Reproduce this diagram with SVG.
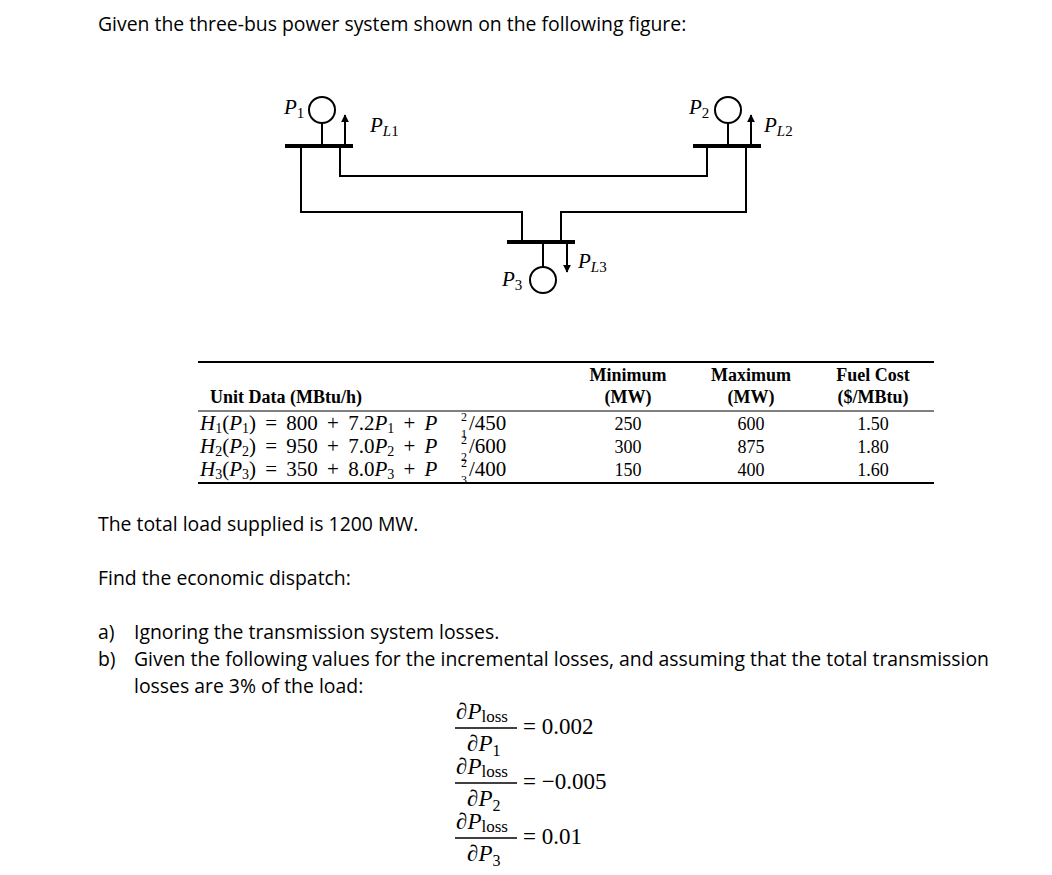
<svg xmlns="http://www.w3.org/2000/svg" width="1052" height="875" viewBox="0 0 1052 875">
<defs>
<marker id="ah" viewBox="0 0 10 10" refX="9" refY="5" markerWidth="4" markerHeight="5" orient="auto"><path d="M0,0 L10,5 L0,10 z" fill="#000"/></marker>
</defs>
<style>
.s{font-family:"Open Sans","Liberation Sans",sans-serif;font-size:19.4px;fill:#000}
.m{font-family:"Liberation Serif",serif;font-style:italic;font-size:21px;fill:#000}
.f{font-family:"Liberation Serif",serif;font-style:italic;font-size:21px;word-spacing:4px;fill:#000}
.r{font-family:"Liberation Serif",serif;font-size:21px;fill:#000}
.u{font-family:"Liberation Serif",serif;font-size:12px;fill:#000}
.t{font-family:"Liberation Serif",serif;font-size:18px;fill:#000}
.b{font-family:"Liberation Serif",serif;font-size:18px;font-weight:bold;fill:#000}
.w{stroke:#000;stroke-width:2;fill:none}
.bus{stroke:#000;stroke-width:4}
.g{stroke:#000;stroke-width:2;fill:#fff}
</style>
<rect width="1052" height="875" fill="#fff"/>
<text class="s" x="98" y="31">Given the three-bus power system shown on the following figure:</text>
<g id="connectors">
<polyline class="w" points="301,146 301,212 522,212 522,242"/>
<polyline class="w" points="561,242 561,212 746,212 746,146"/>
<polyline class="w" points="340,146 340,176 707,176 707,146"/>
<line class="w" x1="322" y1="123" x2="322" y2="146"/>
<line class="w" x1="728" y1="123" x2="728" y2="146"/>
<line class="w" x1="543" y1="242" x2="543" y2="267"/>
<line class="w" x1="345" y1="146" x2="345" y2="115" marker-end="url(#ah)"/>
<line class="w" x1="751" y1="146" x2="751" y2="115" marker-end="url(#ah)"/>
<line class="w" x1="567" y1="242" x2="567" y2="272" marker-end="url(#ah)"/>
</g>
<g id="bus1"><line class="bus" x1="285" y1="146" x2="353" y2="146"/><circle class="g" cx="322" cy="110" r="13"/>
<text class="m" x="284" y="114">P<tspan font-style="normal" font-size="15" dy="4">1</tspan></text>
<text class="m" x="370" y="132">P<tspan font-size="15" dy="4">L<tspan font-style="normal">1</tspan></tspan></text></g>
<g id="bus2"><line class="bus" x1="693" y1="146" x2="761" y2="146"/><circle class="g" cx="728" cy="110" r="13"/>
<text class="m" x="689" y="114">P<tspan font-style="normal" font-size="15" dy="4">2</tspan></text>
<text class="m" x="764" y="132">P<tspan font-size="15" dy="4">L<tspan font-style="normal">2</tspan></tspan></text></g>
<g id="bus3"><line class="bus" x1="507" y1="242" x2="575" y2="242"/><circle class="g" cx="543" cy="280" r="13"/>
<text class="m" x="502" y="286">P<tspan font-style="normal" font-size="15" dy="4">3</tspan></text>
<text class="m" x="578" y="268">P<tspan font-size="15" dy="4">L<tspan font-style="normal">3</tspan></tspan></text></g>
<g id="table">
<line x1="198" y1="362" x2="934" y2="362" stroke="#000" stroke-width="2"/>
<line x1="198" y1="411" x2="934" y2="411" stroke="#000" stroke-width="1"/>
<line x1="198" y1="483" x2="934" y2="483" stroke="#000" stroke-width="2"/>
<text class="b" x="210" y="403">Unit Data (MBtu/h)</text>
<text class="b" x="628" y="381" text-anchor="middle">Minimum</text>
<text class="b" x="628" y="403" text-anchor="middle">(MW)</text>
<text class="b" x="751" y="381" text-anchor="middle">Maximum</text>
<text class="b" x="751" y="403" text-anchor="middle">(MW)</text>
<text class="b" x="873" y="381" text-anchor="middle">Fuel Cost</text>
<text class="b" x="873" y="403" text-anchor="middle">($/MBtu)</text>
<text class="f" x="200" y="430">H<tspan font-style="normal" font-size="14" dy="3">1</tspan><tspan font-style="normal" dy="-3">(</tspan>P<tspan font-style="normal" font-size="14" dy="3">1</tspan><tspan font-style="normal" dy="-3">) = 800 + 7.2</tspan>P<tspan font-style="normal" font-size="14" dy="3">1</tspan><tspan font-style="normal" dy="-3"> + </tspan>P</text>
<text class="u" x="461" y="421">2</text><text class="u" x="461" y="438">1</text>
<text class="r" x="469" y="430">/450</text>
<text class="f" x="200" y="453">H<tspan font-style="normal" font-size="14" dy="3">2</tspan><tspan font-style="normal" dy="-3">(</tspan>P<tspan font-style="normal" font-size="14" dy="3">2</tspan><tspan font-style="normal" dy="-3">) = 950 + 7.0</tspan>P<tspan font-style="normal" font-size="14" dy="3">2</tspan><tspan font-style="normal" dy="-3"> + </tspan>P</text>
<text class="u" x="461" y="444">2</text><text class="u" x="461" y="461">2</text>
<text class="r" x="469" y="453">/600</text>
<text class="f" x="200" y="476">H<tspan font-style="normal" font-size="14" dy="3">3</tspan><tspan font-style="normal" dy="-3">(</tspan>P<tspan font-style="normal" font-size="14" dy="3">3</tspan><tspan font-style="normal" dy="-3">) = 350 + 8.0</tspan>P<tspan font-style="normal" font-size="14" dy="3">3</tspan><tspan font-style="normal" dy="-3"> + </tspan>P</text>
<text class="u" x="461" y="467">2</text><text class="u" x="461" y="484">3</text>
<text class="r" x="469" y="476">/400</text>
<text class="t" x="628" y="430" text-anchor="middle">250</text>
<text class="t" x="628" y="453" text-anchor="middle">300</text>
<text class="t" x="628" y="476" text-anchor="middle">150</text>
<text class="t" x="751" y="430" text-anchor="middle">600</text>
<text class="t" x="751" y="453" text-anchor="middle">875</text>
<text class="t" x="751" y="476" text-anchor="middle">400</text>
<text class="t" x="873" y="430" text-anchor="middle">1.50</text>
<text class="t" x="873" y="453" text-anchor="middle">1.80</text>
<text class="t" x="873" y="476" text-anchor="middle">1.60</text>
</g>
<text class="s" x="98" y="531">The total load supplied is 1200 MW.</text>
<text class="s" x="98" y="585">Find the economic dispatch:</text>
<text class="s" x="98" y="639">a)</text><text class="s" x="134" y="639">Ignoring the transmission system losses.</text>
<text class="s" x="98" y="666">b)</text><text class="s" x="134" y="666">Given the following values for the incremental losses, and assuming that the total transmission</text>
<text class="s" x="134" y="693">losses are 3% of the load:</text>
<g id="eqs" font-family="Liberation Serif,serif" font-size="23">
<g><text x="456" y="719"><tspan>∂</tspan><tspan font-style="italic">P</tspan><tspan font-size="17" dy="3">loss</tspan></text>
<line x1="455" y1="728" x2="517" y2="728" stroke="#000" stroke-width="1.5"/>
<text x="467" y="751"><tspan>∂</tspan><tspan font-style="italic">P</tspan><tspan font-size="16" dy="5">1</tspan></text>
<text x="523" y="734">= 0.002</text></g>
<g><text x="456" y="774"><tspan>∂</tspan><tspan font-style="italic">P</tspan><tspan font-size="17" dy="3">loss</tspan></text>
<line x1="455" y1="783" x2="517" y2="783" stroke="#000" stroke-width="1.5"/>
<text x="467" y="806"><tspan>∂</tspan><tspan font-style="italic">P</tspan><tspan font-size="16" dy="5">2</tspan></text>
<text x="523" y="789">= −0.005</text></g>
<g><text x="456" y="829"><tspan>∂</tspan><tspan font-style="italic">P</tspan><tspan font-size="17" dy="3">loss</tspan></text>
<line x1="455" y1="838" x2="517" y2="838" stroke="#000" stroke-width="1.5"/>
<text x="467" y="861"><tspan>∂</tspan><tspan font-style="italic">P</tspan><tspan font-size="16" dy="5">3</tspan></text>
<text x="523" y="844">= 0.01</text></g>
</g>
</svg>
